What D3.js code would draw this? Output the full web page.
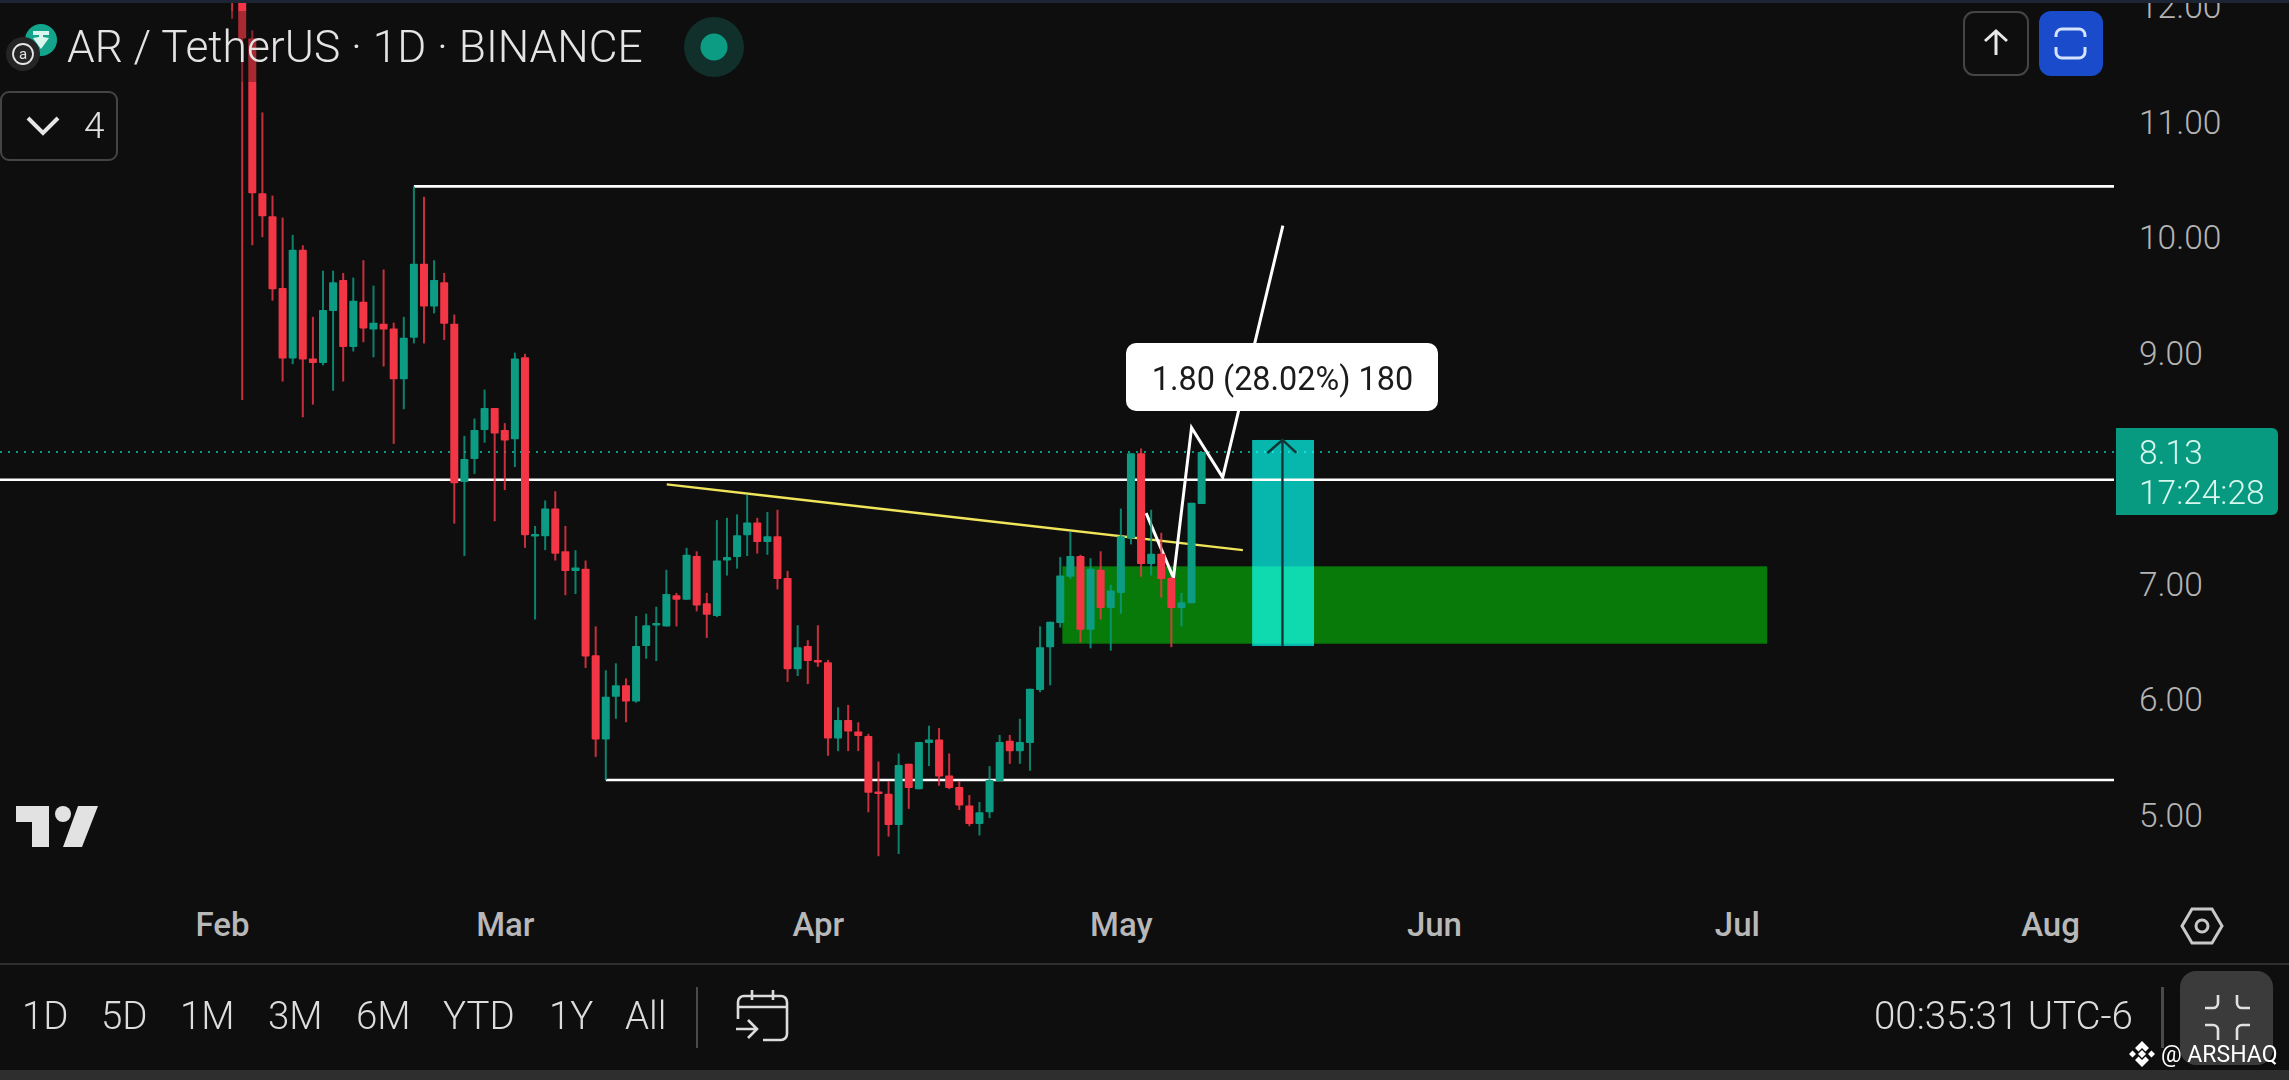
<!DOCTYPE html>
<html><head><meta charset="utf-8">
<style>
html,body{margin:0;padding:0;background:#0e0e0e;overflow:hidden}
svg{display:block}
text{font-family:Roboto,sans-serif}
</style>
<script src="https://cdn.jsdelivr.net/npm/d3@7"></script>
</head><body><svg id="c" width="2289" height="1080"></svg>
<script>
// ---- data (AR/USDT daily) ----
const firstCandleDate = "2025-02-02";
const candleOpen  = [13.0,12.6,11.71,10.37,10.17,9.55,8.94,9.88,8.94,8.90,9.35,9.62,9.04,9.43,9.19,9.24,9.20,8.76,9.12,9.76,9.39,9.60,9.24,7.87,8.07,8.32,8.51,8.32,8.24,8.95,
  7.40,7.40,7.64,7.27,7.10,7.12,6.37,5.64,6.01,6.11,5.97,6.45,6.64,6.62,6.89,6.85,7.23,6.82,6.71,7.19,7.22,7.41,7.52,7.35,7.40,7.04,6.25,6.45,6.33,6.31,5.65,5.81,5.71,5.67,5.19,5.17,4.90,
  5.43,5.21,5.61,5.64,5.33,5.23,5.07,4.91,5.01,5.28,5.63,5.54,5.61,6.07,6.44,6.65,7.05,7.23,6.59,7.11,6.78,6.91,7.38,8.12,7.16,7.25,7.04,6.78,6.82,7.68];
const candleHigh  = [13.2,13.0,11.78,11.07,10.35,10.16,10.01,9.92,9.30,9.70,9.70,9.68,9.64,9.79,9.57,9.71,9.25,9.30,10.43,10.34,9.79,9.68,9.32,8.27,8.42,8.67,8.51,8.38,8.99,8.98,
  7.49,7.71,7.79,7.49,7.28,7.19,6.62,6.24,6.30,6.17,6.71,6.73,6.79,7.11,6.91,7.30,7.27,6.91,7.54,7.56,7.59,7.76,7.56,7.61,7.63,7.10,6.63,6.50,6.63,6.33,5.92,5.94,5.79,5.69,5.45,5.28,5.52,
  5.43,5.62,5.76,5.74,5.52,5.28,5.16,5.10,5.41,5.68,5.68,5.82,6.08,6.62,6.66,7.22,7.44,7.24,7.21,7.27,6.98,7.64,8.12,8.16,7.63,7.43,7.05,6.91,7.69,8.13];
const candleLow   = [11.88,8.58,9.92,9.99,9.44,8.74,8.89,8.43,8.54,8.88,8.66,8.74,9.00,9.08,8.95,8.87,8.20,8.50,9.07,9.07,9.33,9.10,7.51,7.23,7.94,8.21,7.53,7.80,8.00,7.30,
  6.68,7.28,7.19,6.89,6.90,6.26,5.49,5.29,5.82,5.79,5.96,6.34,6.32,6.62,6.62,6.85,6.75,6.52,6.70,7.06,7.12,7.23,7.25,7.24,6.94,6.14,6.19,6.12,6.27,5.50,5.54,5.54,5.54,5.01,4.63,4.80,4.65,
  5.04,5.21,5.41,5.24,5.21,5.03,4.89,4.81,4.96,5.28,5.43,5.43,5.37,6.05,6.11,6.61,7.03,6.48,6.43,6.68,6.41,6.73,7.33,7.05,7.06,6.87,6.44,6.62,6.82,7.68];
const candleClose = [12.3,11.71,10.37,10.17,9.54,8.94,9.88,8.93,8.90,9.36,9.60,9.04,9.44,9.20,9.25,9.19,8.76,9.12,9.76,9.39,9.62,9.24,7.86,8.07,8.32,8.51,8.29,8.23,8.94,7.41,
  7.42,7.64,7.25,7.10,7.13,6.36,5.64,6.01,6.11,5.97,6.45,6.63,6.65,6.90,6.85,7.24,6.80,6.72,7.19,7.22,7.41,7.52,7.35,7.40,7.03,6.25,6.44,6.32,6.31,5.65,5.81,5.71,5.67,5.18,5.18,4.90,5.42,
  5.22,5.62,5.64,5.32,5.22,5.07,4.91,5.01,5.29,5.62,5.54,5.62,6.08,6.44,6.66,7.06,7.23,6.59,7.12,6.78,6.93,7.40,8.12,7.16,7.25,7.03,6.78,6.83,7.69,8.13];

const priceTicks = [5,6,7,8,9,10,11,12];
const monthTicks = ["2025-02-01","2025-03-01","2025-04-01","2025-05-01","2025-06-01","2025-07-01","2025-08-01"];
const rangeButtons = ["1D","5D","1M","3M","6M","YTD","1Y","All"];
const lastPrice = 8.13;
const topLevel = {date:"2025-02-20",price:10.43};
const midLevel = {price:7.89};
const lowLevel = {date:"2025-03-11",price:5.29};
const yellowDates = ["2025-03-17T01:00","2025-05-13T02:00"];
const yellowPrices = [7.85,7.28];
const zoneDates = ["2025-04-25T05:00","2025-07-04"];
const zonePrices = [7.14,6.47];
const projDates = ["2025-05-14","2025-05-20T03:00"];
const projPrices = [8.234,6.45];
const arrowDate = "2025-05-17";
const zigDates = ["2025-05-03T12:00","2025-05-06T05:00","2025-05-08","2025-05-11T02:00","2025-05-17T01:00"];
const zigPrices = [7.60,7.04,8.34,7.91,10.09];

// ---- scales ----
const parse = s => new Date(s.length===10 ? s+"T00:00" : s);
const x = d3.scaleTime().domain([parse("2025-02-01"),parse("2025-08-01")]).range([222,2050]);
const y = d3.scaleLinear().domain([5,12]).range([813.5,5]);
const RIGHT = 2114;
const UP="#0b9c83", DOWN="#f23645", BG="#0e0e0e";

const svg = d3.select("#c");
svg.append("rect").attr("width",2289).attr("height",1080).attr("fill",BG);
svg.append("defs").append("clipPath").attr("id","plot").append("rect")
  .attr("x",0).attr("y",3).attr("width",RIGHT).attr("height",961);
const plot = svg.append("g").attr("clip-path","url(#plot)");

// last price dotted
plot.append("line").attr("x1",0).attr("x2",RIGHT).attr("y1",y(lastPrice)).attr("y2",y(lastPrice))
  .attr("stroke",UP).attr("stroke-width",2).attr("stroke-dasharray","2 6");

// horizontal levels
const lv = (x1,p)=>plot.append("line").attr("x1",x1).attr("x2",RIGHT).attr("y1",y(p)).attr("y2",y(p))
  .attr("stroke","#fff").attr("stroke-width",2.6);
lv(x(parse(topLevel.date)),topLevel.price);
lv(0,midLevel.price);
lv(x(parse(lowLevel.date)),lowLevel.price);

// green zone
plot.append("rect").attr("x",x(parse(zoneDates[0]))).attr("width",x(parse(zoneDates[1]))-x(parse(zoneDates[0])))
  .attr("y",y(zonePrices[0])).attr("height",y(zonePrices[1])-y(zonePrices[0])).attr("fill","#087a0a");

// yellow trend line
plot.append("path").attr("d",d3.line().x(d=>x(parse(d[0]))).y(d=>y(d[1]))(d3.zip(yellowDates,yellowPrices)))
  .attr("fill","none").attr("stroke","#efe45a").attr("stroke-width",2.4);

// zigzag
plot.append("path").attr("d",d3.line().x(d=>x(parse(d[0]))).y(d=>y(d[1]))(d3.zip(zigDates,zigPrices)))
  .attr("fill","none").attr("stroke","#fff").attr("stroke-width",3).attr("stroke-linejoin","miter");

// candles
const start = parse(firstCandleDate);
const candles = candleOpen.map((o,i)=>({d:d3.timeDay.offset(start,i),o,h:candleHigh[i],l:candleLow[i],c:candleClose[i]}));
const g = plot.selectAll("g.k").data(candles).join("g").attr("class","k");
g.append("rect").attr("x",d=>x(d.d)-1).attr("width",2).attr("y",d=>y(d.h)).attr("height",d=>y(d.l)-y(d.h))
  .attr("fill",d=>d.c>=d.o?UP:DOWN).attr("opacity",.82);
g.append("rect").attr("x",d=>x(d.d)-4).attr("width",8).attr("y",d=>y(Math.max(d.o,d.c)))
  .attr("height",d=>Math.max(2.5,Math.abs(y(d.o)-y(d.c)))).attr("rx",.8)
  .attr("fill",d=>d.c>=d.o?UP:DOWN);

// projection box
const px0=x(parse(projDates[0])),px1=x(parse(projDates[1]));
plot.append("rect").attr("x",px0).attr("width",px1-px0).attr("y",y(projPrices[0])).attr("height",y(projPrices[1])-y(projPrices[0]))
  .attr("fill","#07b6ac").style("mix-blend-mode","screen");
const ax=x(parse(arrowDate)), ayT=y(projPrices[0]), ayB=y(projPrices[1]);
plot.append("path").attr("d",`M${ax},${ayB}V${ayT}M${ax-15},${ayT+13}L${ax},${ayT}L${ax+14},${ayT+13}`)
  .attr("fill","none").attr("stroke","#123638").attr("stroke-width",2.4);

// label
const lab = plot.append("g");
lab.append("rect").attr("x",1126).attr("y",343).attr("width",312).attr("height",68).attr("rx",10).attr("fill","#fff");
lab.append("text").attr("x",1282.5).attr("y",378).attr("dy",".36em").attr("text-anchor","middle")
  .attr("font-size",32.4).attr("font-weight",400).attr("fill","#1b1b1b").text("1.80 (28.02%) 180");

// dim band under the title
svg.append("rect").attr("x",0).attr("y",11).attr("width",745).attr("height",71).attr("fill",BG).attr("opacity",.32);

// price axis
const yAxis = d3.axisRight(y).tickValues(priceTicks).tickFormat(d3.format(".2f")).tickSize(0).tickPadding(0);
const ya = svg.append("g").attr("transform","translate(2139,2)").call(yAxis);
ya.select(".domain").remove();
ya.selectAll("text").attr("font-family","Roboto").attr("font-size",33.5).attr("font-weight",300).attr("fill","#b4b4b4");

// time axis
const xAxis = d3.axisBottom(x).tickValues(monthTicks.map(parse)).tickFormat(d3.timeFormat("%b")).tickSize(0).tickPadding(0);
const xa = svg.append("g").attr("transform","translate(0,913)").call(xAxis);
xa.select(".domain").remove();
xa.selectAll("text").attr("font-family","Roboto").attr("font-size",33).attr("font-weight",500).attr("fill","#b8b8b8");

// last price tag
svg.append("path").attr("d","M2116,428H2272a6,6 0 0 1 6,6V509a6,6 0 0 1 -6,6H2116Z").attr("fill","#089981");
svg.append("text").attr("x",2139).attr("y",452).attr("dy",".36em").attr("font-size",33.5).attr("font-weight",300).attr("fill","#d8f7ee").text(d3.format(".2f")(lastPrice));
svg.append("text").attr("x",2139).attr("y",492).attr("dy",".36em").attr("font-size",33.5).attr("font-weight",300).attr("fill","#d8f7ee").text("17:24:28");

// header
svg.append("rect").attr("width",2289).attr("height",3).attr("fill","#1d2433");
svg.append("circle").attr("cx",41).attr("cy",40).attr("r",16).attr("fill","#12a58c");
svg.append("path").attr("d","M33,31H49V35H43V37L49,38L41,49L33,38L39,37V35H33Z").attr("fill","#d9f5ee");
svg.append("circle").attr("cx",23).attr("cy",54).attr("r",17).attr("fill","#252525");
svg.append("circle").attr("cx",23).attr("cy",54).attr("r",10).attr("fill","none").attr("stroke","#e6e6e6").attr("stroke-width",1.8);
svg.append("text").attr("x",23).attr("y",54).attr("dy",".34em").attr("text-anchor","middle").attr("font-size",15).attr("fill","#e6e6e6").text("a");
svg.append("text").attr("x",67).attr("y",46).attr("dy",".36em").attr("font-size",44.3).attr("font-weight",300).attr("fill","#e4e4e4").text("AR / TetherUS · 1D · BINANCE");
svg.append("circle").attr("cx",714).attr("cy",47).attr("r",30).attr("fill","#12302b");
svg.append("circle").attr("cx",714).attr("cy",47).attr("r",13.5).attr("fill","#0b9c83");
svg.append("rect").attr("x",1).attr("y",92).attr("width",116).attr("height",68).attr("rx",8).attr("fill",BG).attr("stroke","#444").attr("stroke-width",2);
svg.append("path").attr("d","M28,118L43,133L58,118").attr("fill","none").attr("stroke","#e6e6e6").attr("stroke-width",4);
svg.append("text").attr("x",84).attr("y",125).attr("dy",".36em").attr("font-size",37).attr("font-weight",300).attr("fill","#e0e0e0").text("4");

// top-right buttons
svg.append("rect").attr("x",1964).attr("y",12).attr("width",64).attr("height",63).attr("rx",10).attr("fill",BG).attr("stroke","#454545").attr("stroke-width",2);
svg.append("path").attr("d","M1996,55V31M1985,41L1996,31L2007,41").attr("fill","none").attr("stroke","#e8e8e8").attr("stroke-width",3);
svg.append("rect").attr("x",2039).attr("y",11).attr("width",64).attr("height",65).attr("rx",12).attr("fill","#1a4bcb");
svg.append("path").attr("d","M2056,37V35a6,6 0 0 1 6,-6H2079a6,6 0 0 1 6,6V37M2056,47V52a6,6 0 0 0 6,6H2079a6,6 0 0 0 6,-6V47")
  .attr("fill","none").attr("stroke","#d5e3ff").attr("stroke-width",3);

// TradingView logo
svg.append("path").attr("d","M16,806H49V847H32V822H16Z M78,806H98L82,847H63Z").attr("fill","#e2e2e2");
svg.append("circle").attr("cx",63).attr("cy",814).attr("r",8).attr("fill","#e2e2e2");

// hexagon settings
svg.append("path").attr("d","M2182,926L2192,909H2212L2222,926L2212,943H2192Z").attr("fill","none").attr("stroke","#c8c8c8").attr("stroke-width",3);
svg.append("circle").attr("cx",2202).attr("cy",926).attr("r",6).attr("fill","none").attr("stroke","#c8c8c8").attr("stroke-width",3);

// bottom bar
svg.append("rect").attr("y",963).attr("width",2289).attr("height",2).attr("fill","#2e2e2e");
const btnX = [22,101,180,268,356,443,549,625];
svg.selectAll("text.btn").data(rangeButtons).join("text").attr("class","btn")
  .attr("x",(d,i)=>btnX[i]).attr("y",1015).attr("dy",".36em").attr("font-size",38.5).attr("font-weight",300).attr("fill","#dcdcdc").text(d=>d);
svg.append("rect").attr("x",696).attr("y",987).attr("width",2).attr("height",61).attr("fill","#4a4a4a");
svg.append("path").attr("d","M738,1019V1002a6,6 0 0 1 6,-6H781a6,6 0 0 1 6,6V1034a6,6 0 0 1 -6,6H763M738,1007H787M752,990V1000M773,990V1000M736,1029H757M748,1020L757,1029L748,1038")
  .attr("fill","none").attr("stroke","#dcdcdc").attr("stroke-width",2.6);
svg.append("text").attr("x",1874).attr("y",1015).attr("dy",".36em").attr("font-size",38.5).attr("font-weight",300).attr("fill","#dcdcdc").text("00:35:31 UTC-6");
svg.append("rect").attr("x",2161).attr("y",987).attr("width",3).attr("height",61).attr("fill","#4a4a4a");
svg.append("rect").attr("x",2180).attr("y",971).attr("width",93).attr("height",94).attr("rx",16).attr("fill","#3b3b3b");
svg.append("path").attr("d","M2218,995V1003a5,5 0 0 1 -5,5H2205M2237,995V1003a5,5 0 0 0 5,5H2250M2218,1040V1030a5,5 0 0 0 -5,-5H2205M2237,1040V1030a5,5 0 0 1 5,-5H2250")
  .attr("fill","none").attr("stroke","#e0e0e0").attr("stroke-width",2.6);
svg.append("rect").attr("y",1070).attr("width",2289).attr("height",10).attr("fill","#2e2e2e");

// watermark
svg.append("path").attr("d","M2142,1041L2149,1048L2145.5,1051.5L2142,1048L2138.5,1051.5L2135,1048Z M2129,1054L2132.5,1050.5L2136,1054L2132.5,1057.5Z M2155,1054L2151.5,1050.5L2148,1054L2151.5,1057.5Z M2142,1050L2146,1054L2142,1058L2138,1054Z M2142,1067L2135,1060L2138.5,1056.5L2142,1060L2145.5,1056.5L2149,1060Z").attr("fill","#fff");
svg.append("text").attr("x",2161).attr("y",1054).attr("dy",".36em").attr("font-family","Noto Sans").attr("font-size",23).attr("fill","#fff").text("@ ARSHAQ");
</script></body></html>
